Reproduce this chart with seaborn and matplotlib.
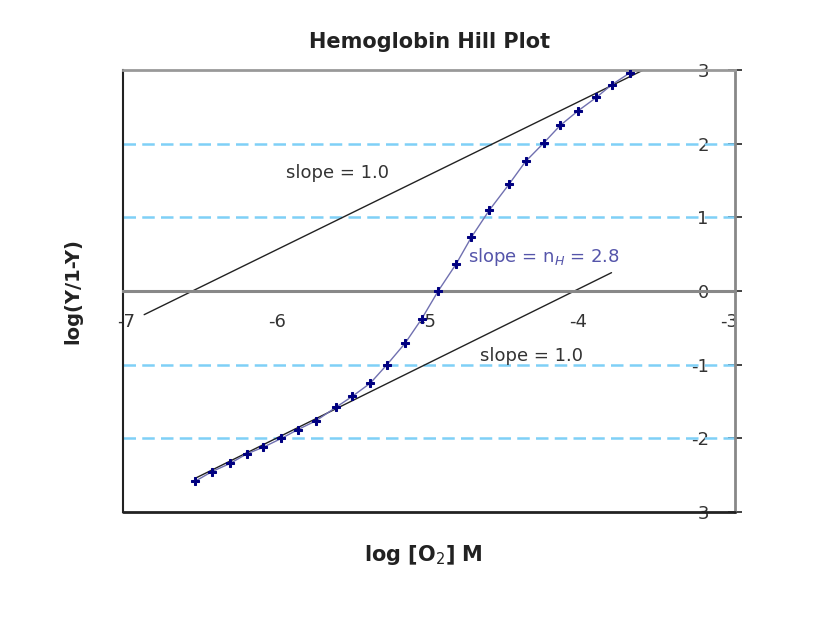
import matplotlib
matplotlib.use('Agg')
import matplotlib.pyplot as plt
import seaborn as sns
import pandas as pd

# Hill plot data
log_o2 = [-6.54, -6.43, -6.31, -6.20, -6.09, -5.97, -5.86, -5.74, -5.61, -5.50,
          -5.38, -5.27, -5.15, -5.04, -4.93, -4.81, -4.71, -4.59, -4.46, -4.35,
          -4.23, -4.12, -4.00, -3.88, -3.78, -3.66]
log_ratio = [-2.58, -2.45, -2.34, -2.21, -2.12, -2.00, -1.88, -1.76, -1.58, -1.43,
             -1.25, -1.00, -0.71, -0.38, 0.00, 0.37, 0.73, 1.10, 1.45, 1.76,
             2.01, 2.25, 2.45, 2.63, 2.80, 2.96]

# slope = 1 asymptotes
upper_x = [-6.88, -3.57]
upper_y = [-0.32, 3.0]
lower_x = [-6.54, -3.78]
lower_y = [-2.54, 0.25]

x_ticks = [-7, -6, -5, -4, -3]
x_labels = ['-7', '-6', '-5', '-4', '-3']
y_ticks = [-3, -2, -1, 0, 1, 2, 3]
y_labels = ['3', '-2', '-1', '0', '1', '2', '3']  # bottom minus hidden by the frame
grid_levels = [-2, -1, 1, 2]

df = pd.DataFrame({'log_o2': log_o2, 'log_ratio': log_ratio})

sns.set_style('white')
plt.rcParams['font.family'] = ['DejaVu Sans']

fig = plt.figure(figsize=(8.15, 6.26), dpi=100)
ax = fig.add_axes([0.151, 0.182, 0.751, 0.706])

for g in grid_levels:
    ax.axhline(g, color='#7fd0f7', lw=1.8, ls=(0, (5, 2.5)), zorder=1)

sns.lineplot(x=upper_x, y=upper_y, color='#222222', lw=1.0, ax=ax, zorder=2)
sns.lineplot(x=lower_x, y=lower_y, color='#222222', lw=1.0, ax=ax, zorder=2)
sns.lineplot(data=df, x='log_o2', y='log_ratio', sort=False, color='#7070b0', lw=1.0,
             marker='P', markersize=6, markerfacecolor='#000080', markeredgecolor='#000080',
             ax=ax, zorder=3)

ax.set_xlim(-7.02, -2.96)
ax.set_ylim(-3, 3)

# frame
ax.spines['left'].set_color('#222222')
ax.spines['left'].set_linewidth(1.5)
ax.spines['top'].set_color('#999999')
ax.spines['top'].set_linewidth(2.0)
ax.spines['right'].set_color('#888888')
ax.spines['right'].set_linewidth(2.0)
ax.spines['bottom'].set_position(('data', 0))
ax.spines['bottom'].set_color('#888888')
ax.spines['bottom'].set_linewidth(2.2)
ax.axhline(-3, color='#222222', lw=2.0, clip_on=False, zorder=4)

ax.set_xticks(x_ticks)
ax.set_xticklabels(x_labels)
ax.tick_params(axis='x', direction='inout', length=12, width=1.2, color='#222222',
               labelsize=13, pad=10, labelcolor='#333333')

ax.yaxis.tick_right()
ax.set_yticks(y_ticks)
ax.set_yticklabels(y_labels)
ax.tick_params(axis='y', direction='inout', length=10, width=1.2, color='#222222',
               labelsize=13, pad=-24, labelcolor='#333333')
for lab in ax.get_yticklabels():
    lab.set_horizontalalignment('right')

ax.set_title('Hemoglobin Hill Plot', fontsize=15, fontweight='bold', pad=16, color='#222222')
ax.set_xlabel('log [O$_2$] M', fontsize=15, fontweight='bold', color='#222222')
ax.xaxis.set_label_coords(0.49, -0.07)
ax.set_ylabel('log(Y/1-Y)', fontsize=14, fontweight='bold', color='#222222')
ax.yaxis.set_label_position('left')
ax.yaxis.set_label_coords(-0.067, 0.5)

ax.text(-5.94, 1.60, 'slope = 1.0', fontsize=13, color='#333333', ha='left', va='center')
ax.text(-4.73, 0.46, 'slope = n$_H$ = 2.8', fontsize=13, color='#5555aa', ha='left', va='center')
ax.text(-4.65, -0.88, 'slope = 1.0', fontsize=13, color='#333333', ha='left', va='center')

fig.savefig('out.png', dpi=100)
